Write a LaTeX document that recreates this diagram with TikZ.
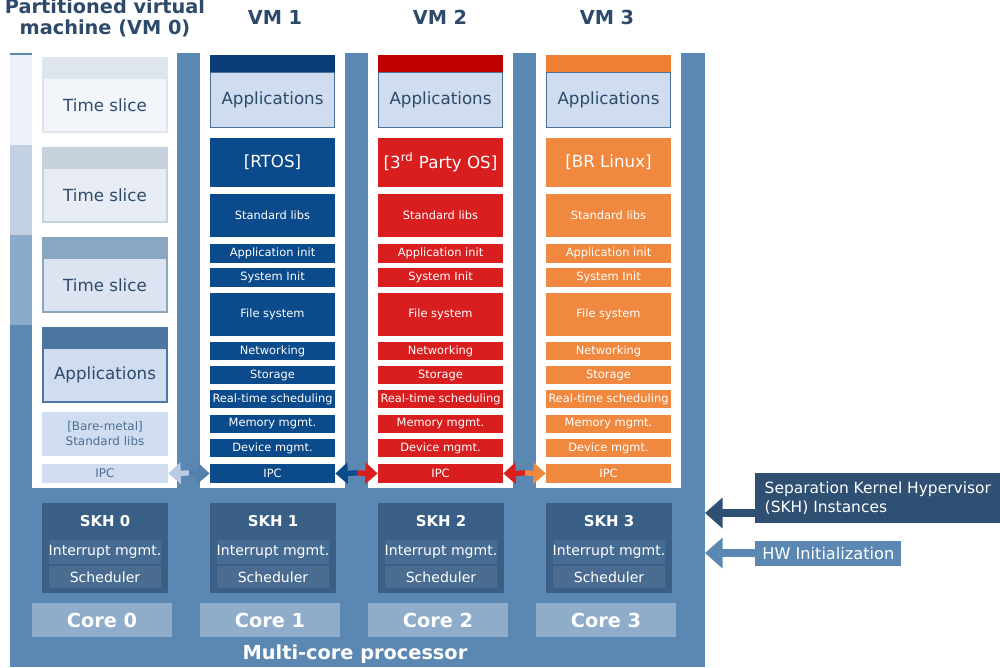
\documentclass[tikz,border=0pt]{standalone}
\usepackage{fontspec}
\setmainfont{DejaVu Sans}
\usetikzlibrary{arrows.meta}

\definecolor{procblue}{HTML}{5B87B3}
\definecolor{skhblue}{HTML}{3A5F86}
\definecolor{skhrow}{HTML}{466C93}
\definecolor{coreblue}{HTML}{8FADCB}
\definecolor{titleblue}{HTML}{2E4A6B}
\definecolor{appfill}{HTML}{D0DCEF}
\definecolor{appedge}{HTML}{4D6F93}
\definecolor{vmAdark}{HTML}{0A3D75}
\definecolor{vmAmain}{HTML}{0B4A8B}
\definecolor{vmBdark}{HTML}{C00000}
\definecolor{vmBmain}{HTML}{D81E1E}
\definecolor{vmCdark}{HTML}{EF7F33}
\definecolor{vmCmain}{HTML}{F0883F}
\definecolor{labeldark}{HTML}{2F4F73}

\tikzset{
  blk/.style={inner sep=0pt, align=center, text=white},
  title/.style={font=\bfseries\fontsize{11}{12}\selectfont, text=titleblue, align=center},
}

% block: name, left x, top y, bottom y, fill, text, font, width
\newcommand{\blk}[8]{%
  \node[blk, fill=#5, font=#7, minimum width=#8*0.02cm,
        minimum height=(#4-#3)*0.02cm] (#1) at ({#2+#8/2}, {(#3+#4)/2}) {#6};}

\begin{document}
\begin{tikzpicture}[x=0.02cm, y=-0.02cm]
  \useasboundingbox (0,0) rectangle (1000,667);

  % processor background and left strip
  \fill[procblue] (10,53) rectangle (705,667);
  \fill[white!88!procblue] (10,55) rectangle (32,145);
  \fill[white!62!procblue] (10,145) rectangle (32,235);
  \fill[white!30!procblue] (10,235) rectangle (32,325);

  % white VM panels
  \foreach \x in {32,200,368,536}
    \fill[white] (\x,53) rectangle ({\x+145},488);

  % titles
  \node[title] (vm0title) at (105,18) {Partitioned virtual\\machine (VM 0)};
  \node[title] (vm1title) at (275,17) {VM 1};
  \node[title] (vm2title) at (440,17) {VM 2};
  \node[title] (vm3title) at (607,17) {VM 3};

  % VM 0 time slices
  \foreach \n/\t/\hd/\bd/\lbl in {a/57/DFE5EC/F2F5FA/Time slice,b/147/C5D2DE/E8EDF5/Time slice,
                                   c/237/8BA6C0/DCE4F2/Time slice,d/327/4D77A0/D0DCEF/Applications}{
    \definecolor{hd}{HTML}{\hd}\definecolor{bd}{HTML}{\bd}
    \fill[hd] (42,\t) rectangle (168,\t+20);
    \node[blk, fill=bd, draw=hd, line width=1pt, text=titleblue, font=\fontsize{9.5}{11}\selectfont,
          minimum width=124*0.02cm, minimum height=54*0.02cm] (slice\n) at (105,\t+48) {\lbl};
  }
  \blk{bare}{42}{412}{456}{appfill}{\textcolor{appedge}{[Bare-metal]}\\\textcolor{appedge}{Standard libs}}{\fontsize{6.8}{8.5}\selectfont}{126}
  \blk{ipc0}{42}{464}{483}{appfill}{\textcolor{appedge}{IPC}}{\fontsize{6.8}{8}\selectfont}{126}

  % VM 1..3 stacks
  \foreach \i/\x/\dk/\mn/\os in {1/210/vmAdark/vmAmain/{[RTOS]},
                                 2/378/vmBdark/vmBmain/{[3\textsuperscript{rd} Party OS]},
                                 3/546/vmCdark/vmCmain/{[BR Linux]}}{
    \fill[\dk] (\x,55) rectangle (\x+125,72);
    \node[blk, fill=appfill, draw=appedge, line width=1pt, text=titleblue,
          font=\fontsize{9.5}{11}\selectfont, minimum width=124*0.02cm, minimum height=55*0.02cm]
          (app\i) at (\x+62.5,100) {Applications};
    \blk{os\i}{\x}{138}{187}{\mn}{\os}{\fontsize{9.5}{11}\selectfont}{125}
    \foreach \n/\t/\b/\lbl in {libs/194/237/Standard libs, init/244/263/Application init,
                               sys/268/287/System Init, fs/293/336/File system,
                               net/342/360/Networking, stor/366/384/Storage,
                               rt/390/408/Real-time scheduling, mem/415/433/Memory mgmt.,
                               dev/439/457/Device mgmt., ipc/464/483/IPC}{
      \blk{\n\i}{\x}{\t}{\b}{\mn}{\lbl}{\fontsize{6.5}{8}\selectfont}{125}
    }
  }

  % SKH instances and cores
  \foreach \i in {0,...,3}{
    \pgfmathsetmacro{\sx}{42+168*\i}
    \fill[skhblue] (\sx,503) rectangle (\sx+126,593);
    \node[font=\bfseries\fontsize{8.5}{10}\selectfont, text=white] (skh\i) at (\sx+63,521) {SKH \i};
    \node[blk, fill=skhrow, font=\fontsize{8}{9}\selectfont, minimum width=112*0.02cm,
          minimum height=24*0.02cm] (irq\i) at (\sx+63,552) {Interrupt mgmt.};
    \node[blk, fill=skhblue!92!white, font=\fontsize{8}{9}\selectfont, minimum width=112*0.02cm,
          minimum height=22*0.02cm] (sched\i) at (\sx+63,577) {Scheduler};
    \node[blk, fill=coreblue, font=\bfseries\fontsize{11}{12}\selectfont, minimum width=140*0.02cm,
          minimum height=34*0.02cm] (core\i) at (\sx+60,620) {Core \i};
  }
  \node[font=\bfseries\fontsize{11}{12}\selectfont, text=white] (proc) at (355,654) {Multi-core processor};

  % IPC links
  \coordinate (m01) at (189,473);
  \coordinate (m12) at (357,473);
  \coordinate (m23) at (525,473);
  \draw[-{Triangle[width=12pt,length=7pt]}, line width=3pt, appfill!80!procblue] (m01) -- (ipc0.east);
  \draw[-{Triangle[width=12pt,length=7pt]}, line width=3pt, vmAmain!70!white] (m01) -- (ipc1.west);
  \draw[-{Triangle[width=12pt,length=7pt]}, line width=3pt, vmAmain] (m12) -- (ipc1.east);
  \draw[-{Triangle[width=12pt,length=7pt]}, line width=3pt, vmBmain] (m12) -- (ipc2.west);
  \draw[-{Triangle[width=12pt,length=7pt]}, line width=3pt, vmBmain] (m23) -- (ipc2.east);
  \draw[-{Triangle[width=12pt,length=7pt]}, line width=3pt, vmCmain] (m23) -- (ipc3.west);

  % right-hand labels
  \node[blk, fill=labeldark, anchor=north west, align=left, font=\fontsize{8.8}{11}\selectfont,
        minimum width=245*0.02cm, minimum height=50*0.02cm, inner xsep=4pt] (skhlabel) at (755,473)
        {Separation Kernel Hypervisor\\(SKH) Instances};
  \node[blk, fill=procblue, anchor=north west, font=\fontsize{9.2}{11}\selectfont,
        minimum height=25*0.02cm, inner xsep=4pt] (hwlabel) at (755,541) {HW Initialization};
  \coordinate (skhtip) at (705,513);
  \coordinate (hwtip) at (705,553);
  \draw[-{Triangle[width=17pt,length=10pt]}, line width=5pt, labeldark] (skhlabel.west |- skhtip) -- (skhtip);
  \draw[-{Triangle[width=17pt,length=10pt]}, line width=5pt, procblue] (hwlabel.west |- hwtip) -- (hwtip);
\end{tikzpicture}
\end{document}
